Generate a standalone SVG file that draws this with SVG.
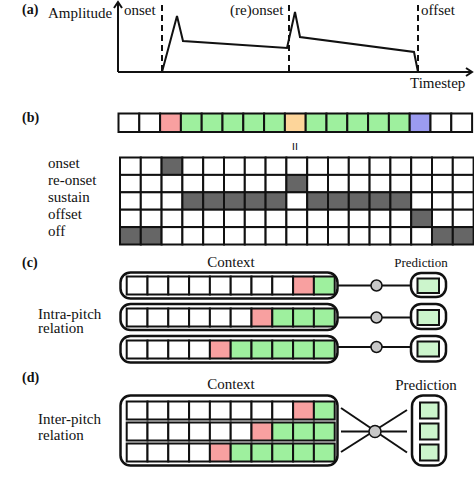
<svg xmlns="http://www.w3.org/2000/svg" width="474" height="488" viewBox="0 0 474 488">
<style>
text{font-family:"Liberation Serif","Times New Roman",serif;font-size:15px;fill:#111}
.b{font-weight:bold;font-size:14px}
.ln{stroke:#111;stroke-width:2;fill:none}
.dash{stroke:#111;stroke-width:2;stroke-dasharray:6 4;fill:none}
.c{stroke:#111;stroke-width:2}
.w{fill:#fff}.r{fill:#f8a0a0}.g{fill:#9ef09e}.o{fill:#fdd59a}.bl{fill:#9b9bf0}.d{fill:#666}
.box{fill:none;stroke:#111;stroke-width:2.5}
.pc{fill:#ccf5cc;stroke:#111;stroke-width:2}
.node{fill:#c8c8c8;stroke:#111;stroke-width:1.5}
</style>
<rect width="474" height="488" fill="#fff"/>

<g id="panel-a">
<text class="b" x="22" y="14">(a)</text>
<text x="48" y="18">Amplitude</text>
<text x="124" y="15">onset</text>
<text x="230" y="15">(re)onset</text>
<text x="421" y="15">offset</text>
<text x="410" y="88">Timestep</text>
<line class="ln" x1="118" y1="72" x2="118" y2="2"/>
<polyline class="ln" points="114,8 118,2 122,8"/>
<line class="ln" x1="118" y1="72" x2="472" y2="72"/>
<polyline class="ln" points="466,68 472,72 466,76"/>
<line class="dash" x1="162" y1="5" x2="162" y2="72"/>
<line class="dash" x1="289" y1="5" x2="289" y2="72"/>
<line class="dash" x1="418" y1="5" x2="418" y2="72"/>
<path class="ln" d="M162,72 L177,16 L183,41 L287,48 L295,12 L300,37 L414,52 L418,72"/>
</g>

<g id="panel-b">
<text class="b" x="22" y="122">(b)</text>
<g id="strip">
<rect class="c w" x="118.5" y="113.5" width="20.8" height="18.5"/>
<rect class="c w" x="139.3" y="113.5" width="20.8" height="18.5"/>
<rect class="c r" x="160.1" y="113.5" width="20.8" height="18.5"/>
<rect class="c g" x="180.9" y="113.5" width="20.8" height="18.5"/>
<rect class="c g" x="201.7" y="113.5" width="20.8" height="18.5"/>
<rect class="c g" x="222.5" y="113.5" width="20.8" height="18.5"/>
<rect class="c g" x="243.3" y="113.5" width="20.8" height="18.5"/>
<rect class="c g" x="264.1" y="113.5" width="20.8" height="18.5"/>
<rect class="c o" x="284.9" y="113.5" width="20.8" height="18.5"/>
<rect class="c g" x="305.7" y="113.5" width="20.8" height="18.5"/>
<rect class="c g" x="326.5" y="113.5" width="20.8" height="18.5"/>
<rect class="c g" x="347.3" y="113.5" width="20.8" height="18.5"/>
<rect class="c g" x="368.1" y="113.5" width="20.8" height="18.5"/>
<rect class="c g" x="388.9" y="113.5" width="20.8" height="18.5"/>
<rect class="c bl" x="409.7" y="113.5" width="20.8" height="18.5"/>
<rect class="c w" x="430.5" y="113.5" width="20.8" height="18.5"/>
<rect class="c w" x="451.3" y="113.5" width="20.8" height="18.5"/>
</g>
<text x="295" y="146.5" transform="rotate(90 295 146.5)" text-anchor="middle" dominant-baseline="central" style="font-size:15px;font-weight:bold">=</text>
<text x="48" y="168">onset</text>
<text x="48" y="185">re-onset</text>
<text x="48" y="201.5">sustain</text>
<text x="48" y="218.5">offset</text>
<text x="48" y="235.5">off</text>
<g id="grid">
<rect class="c w" x="120" y="157.5" width="20.8" height="17.4"/><rect class="c w" x="140.8" y="157.5" width="20.8" height="17.4"/><rect class="c d" x="161.6" y="157.5" width="20.8" height="17.4"/><rect class="c w" x="182.4" y="157.5" width="20.8" height="17.4"/><rect class="c w" x="203.2" y="157.5" width="20.8" height="17.4"/><rect class="c w" x="224" y="157.5" width="20.8" height="17.4"/><rect class="c w" x="244.8" y="157.5" width="20.8" height="17.4"/><rect class="c w" x="265.6" y="157.5" width="20.8" height="17.4"/><rect class="c w" x="286.4" y="157.5" width="20.8" height="17.4"/><rect class="c w" x="307.2" y="157.5" width="20.8" height="17.4"/><rect class="c w" x="328" y="157.5" width="20.8" height="17.4"/><rect class="c w" x="348.8" y="157.5" width="20.8" height="17.4"/><rect class="c w" x="369.6" y="157.5" width="20.8" height="17.4"/><rect class="c w" x="390.4" y="157.5" width="20.8" height="17.4"/><rect class="c w" x="411.2" y="157.5" width="20.8" height="17.4"/><rect class="c w" x="432" y="157.5" width="20.8" height="17.4"/><rect class="c w" x="452.8" y="157.5" width="20.8" height="17.4"/>
<rect class="c w" x="120" y="174.9" width="20.8" height="17.4"/><rect class="c w" x="140.8" y="174.9" width="20.8" height="17.4"/><rect class="c w" x="161.6" y="174.9" width="20.8" height="17.4"/><rect class="c w" x="182.4" y="174.9" width="20.8" height="17.4"/><rect class="c w" x="203.2" y="174.9" width="20.8" height="17.4"/><rect class="c w" x="224" y="174.9" width="20.8" height="17.4"/><rect class="c w" x="244.8" y="174.9" width="20.8" height="17.4"/><rect class="c w" x="265.6" y="174.9" width="20.8" height="17.4"/><rect class="c d" x="286.4" y="174.9" width="20.8" height="17.4"/><rect class="c w" x="307.2" y="174.9" width="20.8" height="17.4"/><rect class="c w" x="328" y="174.9" width="20.8" height="17.4"/><rect class="c w" x="348.8" y="174.9" width="20.8" height="17.4"/><rect class="c w" x="369.6" y="174.9" width="20.8" height="17.4"/><rect class="c w" x="390.4" y="174.9" width="20.8" height="17.4"/><rect class="c w" x="411.2" y="174.9" width="20.8" height="17.4"/><rect class="c w" x="432" y="174.9" width="20.8" height="17.4"/><rect class="c w" x="452.8" y="174.9" width="20.8" height="17.4"/>
<rect class="c w" x="120" y="192.3" width="20.8" height="17.4"/><rect class="c w" x="140.8" y="192.3" width="20.8" height="17.4"/><rect class="c w" x="161.6" y="192.3" width="20.8" height="17.4"/><rect class="c d" x="182.4" y="192.3" width="20.8" height="17.4"/><rect class="c d" x="203.2" y="192.3" width="20.8" height="17.4"/><rect class="c d" x="224" y="192.3" width="20.8" height="17.4"/><rect class="c d" x="244.8" y="192.3" width="20.8" height="17.4"/><rect class="c d" x="265.6" y="192.3" width="20.8" height="17.4"/><rect class="c w" x="286.4" y="192.3" width="20.8" height="17.4"/><rect class="c d" x="307.2" y="192.3" width="20.8" height="17.4"/><rect class="c d" x="328" y="192.3" width="20.8" height="17.4"/><rect class="c d" x="348.8" y="192.3" width="20.8" height="17.4"/><rect class="c d" x="369.6" y="192.3" width="20.8" height="17.4"/><rect class="c d" x="390.4" y="192.3" width="20.8" height="17.4"/><rect class="c w" x="411.2" y="192.3" width="20.8" height="17.4"/><rect class="c w" x="432" y="192.3" width="20.8" height="17.4"/><rect class="c w" x="452.8" y="192.3" width="20.8" height="17.4"/>
<rect class="c w" x="120" y="209.7" width="20.8" height="17.4"/><rect class="c w" x="140.8" y="209.7" width="20.8" height="17.4"/><rect class="c w" x="161.6" y="209.7" width="20.8" height="17.4"/><rect class="c w" x="182.4" y="209.7" width="20.8" height="17.4"/><rect class="c w" x="203.2" y="209.7" width="20.8" height="17.4"/><rect class="c w" x="224" y="209.7" width="20.8" height="17.4"/><rect class="c w" x="244.8" y="209.7" width="20.8" height="17.4"/><rect class="c w" x="265.6" y="209.7" width="20.8" height="17.4"/><rect class="c w" x="286.4" y="209.7" width="20.8" height="17.4"/><rect class="c w" x="307.2" y="209.7" width="20.8" height="17.4"/><rect class="c w" x="328" y="209.7" width="20.8" height="17.4"/><rect class="c w" x="348.8" y="209.7" width="20.8" height="17.4"/><rect class="c w" x="369.6" y="209.7" width="20.8" height="17.4"/><rect class="c w" x="390.4" y="209.7" width="20.8" height="17.4"/><rect class="c d" x="411.2" y="209.7" width="20.8" height="17.4"/><rect class="c w" x="432" y="209.7" width="20.8" height="17.4"/><rect class="c w" x="452.8" y="209.7" width="20.8" height="17.4"/>
<rect class="c d" x="120" y="227.1" width="20.8" height="17.4"/><rect class="c d" x="140.8" y="227.1" width="20.8" height="17.4"/><rect class="c w" x="161.6" y="227.1" width="20.8" height="17.4"/><rect class="c w" x="182.4" y="227.1" width="20.8" height="17.4"/><rect class="c w" x="203.2" y="227.1" width="20.8" height="17.4"/><rect class="c w" x="224" y="227.1" width="20.8" height="17.4"/><rect class="c w" x="244.8" y="227.1" width="20.8" height="17.4"/><rect class="c w" x="265.6" y="227.1" width="20.8" height="17.4"/><rect class="c w" x="286.4" y="227.1" width="20.8" height="17.4"/><rect class="c w" x="307.2" y="227.1" width="20.8" height="17.4"/><rect class="c w" x="328" y="227.1" width="20.8" height="17.4"/><rect class="c w" x="348.8" y="227.1" width="20.8" height="17.4"/><rect class="c w" x="369.6" y="227.1" width="20.8" height="17.4"/><rect class="c w" x="390.4" y="227.1" width="20.8" height="17.4"/><rect class="c w" x="411.2" y="227.1" width="20.8" height="17.4"/><rect class="c d" x="432" y="227.1" width="20.8" height="17.4"/><rect class="c d" x="452.8" y="227.1" width="20.8" height="17.4"/>
</g>
</g>

<g id="panel-c">
<text class="b" x="22" y="267">(c)</text>
<text x="231" y="267" text-anchor="middle">Context</text>
<text x="421" y="267" text-anchor="middle" style="font-size:13px">Prediction</text>
<text x="38" y="318.5">Intra-pitch</text>
<text x="38" y="333">relation</text>
<g id="c-row1">
<rect class="box" x="120.5" y="272.5" width="217" height="26" rx="10"/>
<rect class="c w" x="126.7" y="276.5" width="20.8" height="18"/><rect class="c w" x="147.5" y="276.5" width="20.8" height="18"/><rect class="c w" x="168.3" y="276.5" width="20.8" height="18"/><rect class="c w" x="189.1" y="276.5" width="20.8" height="18"/><rect class="c w" x="209.9" y="276.5" width="20.8" height="18"/><rect class="c w" x="230.7" y="276.5" width="20.8" height="18"/><rect class="c w" x="251.5" y="276.5" width="20.8" height="18"/><rect class="c w" x="272.3" y="276.5" width="20.8" height="18"/><rect class="c r" x="293.1" y="276.5" width="20.8" height="18"/><rect class="c g" x="313.9" y="276.5" width="20.8" height="18"/>
</g>
<g id="c-row2">
<rect class="box" x="120.5" y="304" width="217" height="26" rx="10"/>
<rect class="c w" x="126.7" y="308.5" width="20.8" height="18"/><rect class="c w" x="147.5" y="308.5" width="20.8" height="18"/><rect class="c w" x="168.3" y="308.5" width="20.8" height="18"/><rect class="c w" x="189.1" y="308.5" width="20.8" height="18"/><rect class="c w" x="209.9" y="308.5" width="20.8" height="18"/><rect class="c w" x="230.7" y="308.5" width="20.8" height="18"/><rect class="c r" x="251.5" y="308.5" width="20.8" height="18"/><rect class="c g" x="272.3" y="308.5" width="20.8" height="18"/><rect class="c g" x="293.1" y="308.5" width="20.8" height="18"/><rect class="c g" x="313.9" y="308.5" width="20.8" height="18"/>
</g>
<g id="c-row3">
<rect class="box" x="120.5" y="336" width="217" height="26.5" rx="10"/>
<rect class="c w" x="126.7" y="340.5" width="20.8" height="18"/><rect class="c w" x="147.5" y="340.5" width="20.8" height="18"/><rect class="c w" x="168.3" y="340.5" width="20.8" height="18"/><rect class="c w" x="189.1" y="340.5" width="20.8" height="18"/><rect class="c r" x="209.9" y="340.5" width="20.8" height="18"/><rect class="c g" x="230.7" y="340.5" width="20.8" height="18"/><rect class="c g" x="251.5" y="340.5" width="20.8" height="18"/><rect class="c g" x="272.3" y="340.5" width="20.8" height="18"/><rect class="c g" x="293.1" y="340.5" width="20.8" height="18"/><rect class="c g" x="313.9" y="340.5" width="20.8" height="18"/>
</g>
<g id="c-pred1"><rect class="box" x="411" y="273" width="35" height="24" rx="10"/><rect class="pc" x="417.5" y="278.5" width="21.5" height="14.5"/></g>
<g id="c-pred2"><rect class="box" x="411" y="304" width="35" height="25" rx="10"/><rect class="pc" x="417.5" y="310" width="21.5" height="15"/></g>
<g id="c-pred3"><rect class="box" x="411" y="336" width="35" height="25.5" rx="10"/><rect class="pc" x="417.5" y="341.5" width="21.5" height="15"/></g>
<g id="c-connectors">
<line class="ln" x1="338" y1="285.5" x2="411" y2="285.5"/>
<line class="ln" x1="338" y1="317.5" x2="411" y2="317.5"/>
<line class="ln" x1="338" y1="347" x2="411" y2="347"/>
</g>
<g id="c-nodes">
<circle class="node" cx="376.5" cy="285.5" r="5.5"/>
<circle class="node" cx="376.5" cy="317.5" r="5.5"/>
<circle class="node" cx="376.5" cy="347" r="5.5"/>
</g>
</g>

<g id="panel-d">
<text class="b" x="22" y="382">(d)</text>
<text x="231" y="389" text-anchor="middle">Context</text>
<text x="426" y="390" text-anchor="middle">Prediction</text>
<text x="38" y="424">Inter-pitch</text>
<text x="38" y="440">relation</text>
<g id="d-context">
<rect class="box" x="120.5" y="395.5" width="217" height="70" rx="10"/>
<rect class="c w" x="126.7" y="401.5" width="20.8" height="18"/><rect class="c w" x="147.5" y="401.5" width="20.8" height="18"/><rect class="c w" x="168.3" y="401.5" width="20.8" height="18"/><rect class="c w" x="189.1" y="401.5" width="20.8" height="18"/><rect class="c w" x="209.9" y="401.5" width="20.8" height="18"/><rect class="c w" x="230.7" y="401.5" width="20.8" height="18"/><rect class="c w" x="251.5" y="401.5" width="20.8" height="18"/><rect class="c w" x="272.3" y="401.5" width="20.8" height="18"/><rect class="c r" x="293.1" y="401.5" width="20.8" height="18"/><rect class="c g" x="313.9" y="401.5" width="20.8" height="18"/>
<rect class="c w" x="126.7" y="422.5" width="20.8" height="18"/><rect class="c w" x="147.5" y="422.5" width="20.8" height="18"/><rect class="c w" x="168.3" y="422.5" width="20.8" height="18"/><rect class="c w" x="189.1" y="422.5" width="20.8" height="18"/><rect class="c w" x="209.9" y="422.5" width="20.8" height="18"/><rect class="c w" x="230.7" y="422.5" width="20.8" height="18"/><rect class="c r" x="251.5" y="422.5" width="20.8" height="18"/><rect class="c g" x="272.3" y="422.5" width="20.8" height="18"/><rect class="c g" x="293.1" y="422.5" width="20.8" height="18"/><rect class="c g" x="313.9" y="422.5" width="20.8" height="18"/>
<rect class="c w" x="126.7" y="443.5" width="20.8" height="18"/><rect class="c w" x="147.5" y="443.5" width="20.8" height="18"/><rect class="c w" x="168.3" y="443.5" width="20.8" height="18"/><rect class="c w" x="189.1" y="443.5" width="20.8" height="18"/><rect class="c r" x="209.9" y="443.5" width="20.8" height="18"/><rect class="c g" x="230.7" y="443.5" width="20.8" height="18"/><rect class="c g" x="251.5" y="443.5" width="20.8" height="18"/><rect class="c g" x="272.3" y="443.5" width="20.8" height="18"/><rect class="c g" x="293.1" y="443.5" width="20.8" height="18"/><rect class="c g" x="313.9" y="443.5" width="20.8" height="18"/>
</g>
<g id="d-pred">
<rect class="box" x="412" y="395.5" width="34" height="70" rx="11"/>
<rect class="pc" x="420" y="402.5" width="18.5" height="16"/>
<rect class="pc" x="420" y="423.5" width="18.5" height="16"/>
<rect class="pc" x="420" y="444.5" width="18.5" height="16"/>
</g>
<g id="d-connectors">
<line class="ln" x1="341" y1="408" x2="407" y2="452.5"/>
<line class="ln" x1="341" y1="452" x2="407" y2="410"/>
<line class="ln" x1="341" y1="431.5" x2="407" y2="431.5"/>
</g>
<g id="d-node"><circle class="node" cx="375" cy="431.5" r="6"/></g>
</g>
</svg>
